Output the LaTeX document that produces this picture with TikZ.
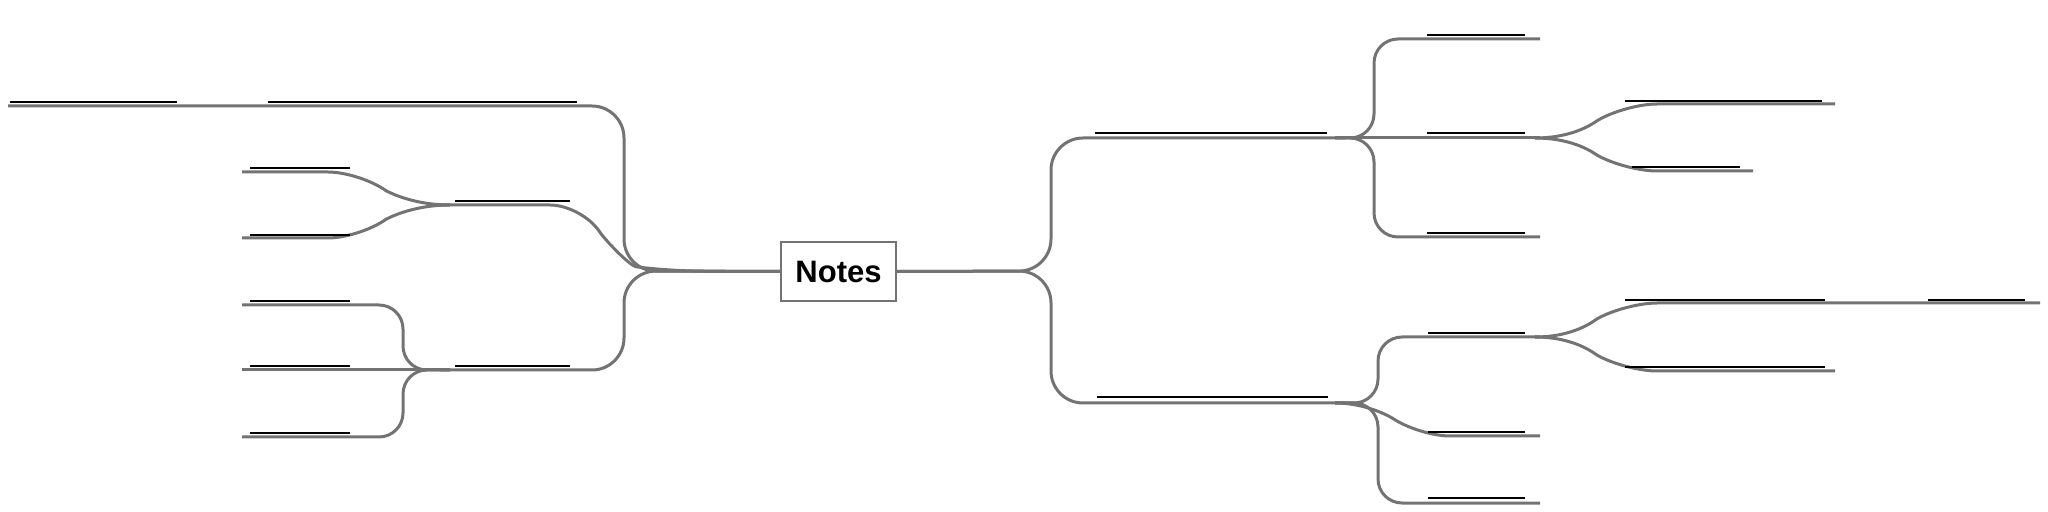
\documentclass[tikz,border=0pt]{standalone}
\usepackage{fontspec}
\setmainfont{Liberation Sans}
\begin{document}
\begin{tikzpicture}[x=0.5pt,y=-0.5pt,
  br/.style={draw=black!55,line width=1.5pt,rounded corners=16pt},
  sm/.style={draw=black!55,line width=1.5pt,rounded corners=12pt},
  bar/.style={draw=black,line width=1.1pt}]
\useasboundingbox (0,0) rectangle (2048,512);
\node[draw=black!55,line width=0.6pt,minimum width=57.5pt,minimum height=29.5pt,inner sep=0pt,font=\fontsize{15.5}{18}\selectfont\bfseries] (c) at (838.5,271.5) {Notes};
% right side
\draw[br] (c.east) -- (1051,271) -- (1051,138) -- (1345,138);
\draw[br] (c.east) -- (1051,271) -- (1051,403) -- (1345,403);
\draw[bar] (1095,133) -- (1327,133);
\draw[bar] (1097,397) -- (1328,397);
% right top children
\draw[sm] (1335,138) -- (1374,138) -- (1374,39) -- (1540,39);
\draw[sm] (1335,138) -- (1374,138) -- (1374,237) -- (1540,237);
\draw[br] (1335,138) -- (1540,138);
\draw[bar] (1427,35) -- (1525,35);
\draw[bar] (1427,133) -- (1525,133);
\draw[bar] (1427,233) -- (1525,233);
\draw[br] (1535,138) .. controls (1575,138) and (1595,122) .. (1625,104) -- (1835,104);
\draw[br] (1535,138) .. controls (1575,138) and (1595,154) .. (1625,171) -- (1753,171);
\draw[bar] (1625,101) -- (1822,101);
\draw[bar] (1632,167) -- (1740,167);
% right bottom children
\draw[sm] (1335,403) -- (1378,403) -- (1378,337) -- (1540,337);
\draw[sm] (1335,403) -- (1378,403) -- (1378,503) -- (1540,503);
\draw[br] (1335,403) .. controls (1370,403) and (1395,420) .. (1418,436) -- (1540,436);
\draw[bar] (1428,333) -- (1525,333);
\draw[bar] (1428,432) -- (1525,432);
\draw[bar] (1428,498) -- (1525,498);
\draw[br] (1535,337) .. controls (1575,337) and (1595,320) .. (1625,303) -- (2040,303);
\draw[br] (1535,337) .. controls (1575,337) and (1595,354) .. (1625,371) -- (1835,371);
\draw[bar] (1625,300) -- (1825,300);
\draw[bar] (1928,300) -- (2025,300);
\draw[bar] (1625,367) -- (1825,367);
% left side
\draw[br] (c.west) -- (624,271) -- (624,106) -- (8,106);
\draw[bar] (10,102) -- (177,102);
\draw[bar] (268,102) -- (577,102);
\draw[br] (c.west) -- (668,271) .. controls (630,266) and (605,240) .. (582,205) -- (440,205);
\draw[bar] (455,201) -- (570,201);
\draw[br] (c.west) -- (624,271) -- (624,370) -- (440,370);
\draw[bar] (455,366) -- (570,366);
% left children
\draw[br] (450,205) .. controls (410,205) and (385,190) .. (360,172) -- (242,172);
\draw[br] (450,205) .. controls (410,205) and (385,220) .. (360,238) -- (242,238);
\draw[bar] (250,168) -- (350,168);
\draw[bar] (250,235) -- (350,235);
\draw[sm] (450,370) -- (403,370) -- (403,305) -- (242,305);
\draw[sm] (450,370) -- (403,370) -- (403,437) -- (242,437);
\draw[br] (450,370) -- (242,370);
\draw[bar] (250,301) -- (350,301);
\draw[bar] (250,366) -- (350,366);
\draw[bar] (250,433) -- (350,433);
\end{tikzpicture}
\end{document}
